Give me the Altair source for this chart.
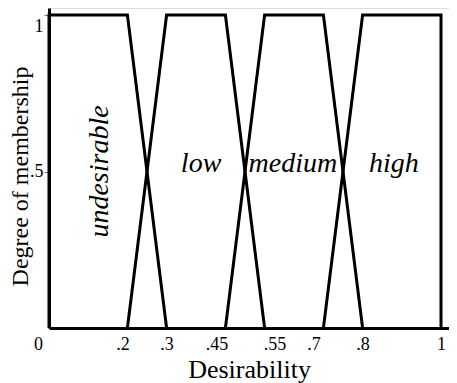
import altair as alt
import pandas as pd

# Membership function sets (trapezoids)
set_names = ["undesirable", "low", "medium", "high"]
undesirable_x = [0.0, 0.0, 0.2, 0.3]
undesirable_y = [0, 1, 1, 0]
low_x = [0.2, 0.3, 0.45, 0.55]
low_y = [0, 1, 1, 0]
medium_x = [0.45, 0.55, 0.7, 0.8]
medium_y = [0, 1, 1, 0]
high_x = [0.7, 0.8, 1.0, 1.0]
high_y = [0, 1, 1, 0]

# Tick values and labels
x_ticks = [0, 0.2, 0.3, 0.45, 0.55, 0.7, 0.8, 1]
x_tick_labels = ["0", ".2", ".3", ".45", ".55", ".7", ".8", "1"]
y_ticks = [0.5, 1]
y_tick_labels = [".5", "1"]

# Set label positions
label_text = ["low", "medium", "high"]
label_x = [0.388, 0.622, 0.880]
label_y = [0.5, 0.5, 0.5]
rot_label_text = ["undesirable"]
rot_label_x = [0.130]
rot_label_y = [0.5]

rows = []
for name, xs, ys in zip(set_names,
                        [undesirable_x, low_x, medium_x, high_x],
                        [undesirable_y, low_y, medium_y, high_y]):
    for i, (xv, yv) in enumerate(zip(xs, ys)):
        rows.append({"set": name, "i": i, "x": xv, "y": yv})
df = pd.DataFrame(rows)

lab_df = pd.DataFrame({"t": label_text, "x": label_x, "y": label_y})
rot_df = pd.DataFrame({"t": rot_label_text, "x": rot_label_x, "y": rot_label_y})


def label_expr(vals, labs):
    expr = "''"
    for v, l in zip(reversed(vals), reversed(labs)):
        expr = f"datum.value == {v} ? '{l}' : ({expr})"
    return expr


FONT = "Liberation Serif"

x_scale = alt.Scale(domain=[0, 1.0204], nice=False, zero=False)
y_scale = alt.Scale(domain=[0, 1.0224], nice=False, zero=False)

x_axis = alt.Axis(
    values=x_ticks,
    labelExpr=label_expr(x_ticks, x_tick_labels),
    title="Desirability",
    ticks=False,
    grid=False,
    domainColor="black",
    domainWidth=3,
    labelFont=FONT,
    labelFontSize=18,
    labelColor="black",
    labelPadding=7,
    labelFlush=False,
    labelOverlap=False,
    labelOffset={
        "condition": [
            {"test": "datum.value == 0", "value": -11},
            {"test": "datum.value == 0.2", "value": -5},
            {"test": "datum.value == 0.45", "value": -9},
            {"test": "datum.value == 0.55", "value": 10},
            {"test": "datum.value == 0.7", "value": -10},
        ],
        "value": 0,
    },
    titleFont=FONT,
    titleFontSize=26,
    titleFontWeight="normal",
    titleColor="black",
    titleBaseline="alphabetic",
    titleY=49,
    titleX=200,
)

y_axis = alt.Axis(
    values=y_ticks,
    labelExpr=label_expr(y_ticks, y_tick_labels),
    title="Degree of membership",
    ticks=True,
    tickSize=5,
    tickColor="#777",
    tickWidth=1,
    grid=False,
    domainColor="black",
    domainWidth=3,
    labelFont=FONT,
    labelFontSize=18,
    labelColor="black",
    labelPadding=1,
    labelFlush=False,
    labelOffset={"condition": {"test": "datum.value == 1", "value": 11}, "value": 0},
    titleFont=FONT,
    titleFontSize=24,
    titleFontWeight="normal",
    titleColor="black",
    titleAngle=270,
    titleBaseline="middle",
    titleAlign="center",
    titleX=-29,
    titleY=168,
)

lines = alt.Chart(df).mark_line(color="black", strokeWidth=3, clip=False).encode(
    x=alt.X("x:Q", scale=x_scale, axis=x_axis),
    y=alt.Y("y:Q", scale=y_scale, axis=y_axis),
    detail="set:N",
    order="i:O",
)

labels = alt.Chart(lab_df).mark_text(
    font=FONT, fontSize=28, fontStyle="italic", color="black",
    align="center", baseline="alphabetic",
).encode(
    x=alt.X("x:Q", scale=x_scale),
    y=alt.Y("y:Q", scale=y_scale),
    text="t:N",
)

rot_labels = alt.Chart(rot_df).mark_text(
    font=FONT, fontSize=28, fontStyle="italic", color="black",
    align="center", baseline="middle", angle=270,
).encode(
    x=alt.X("x:Q", scale=x_scale),
    y=alt.Y("y:Q", scale=y_scale),
    text="t:N",
)

chart = alt.layer(lines, labels, rot_labels).properties(
    width=400,
    height=320,
    autosize=alt.AutoSizeParams(type="none"),
    padding={"left": 41, "top": 0, "right": 0, "bottom": 55},
).configure_view(stroke=None).configure(background="white")

chart.save("out.html", embed_options={"renderer": "svg", "actions": False})
